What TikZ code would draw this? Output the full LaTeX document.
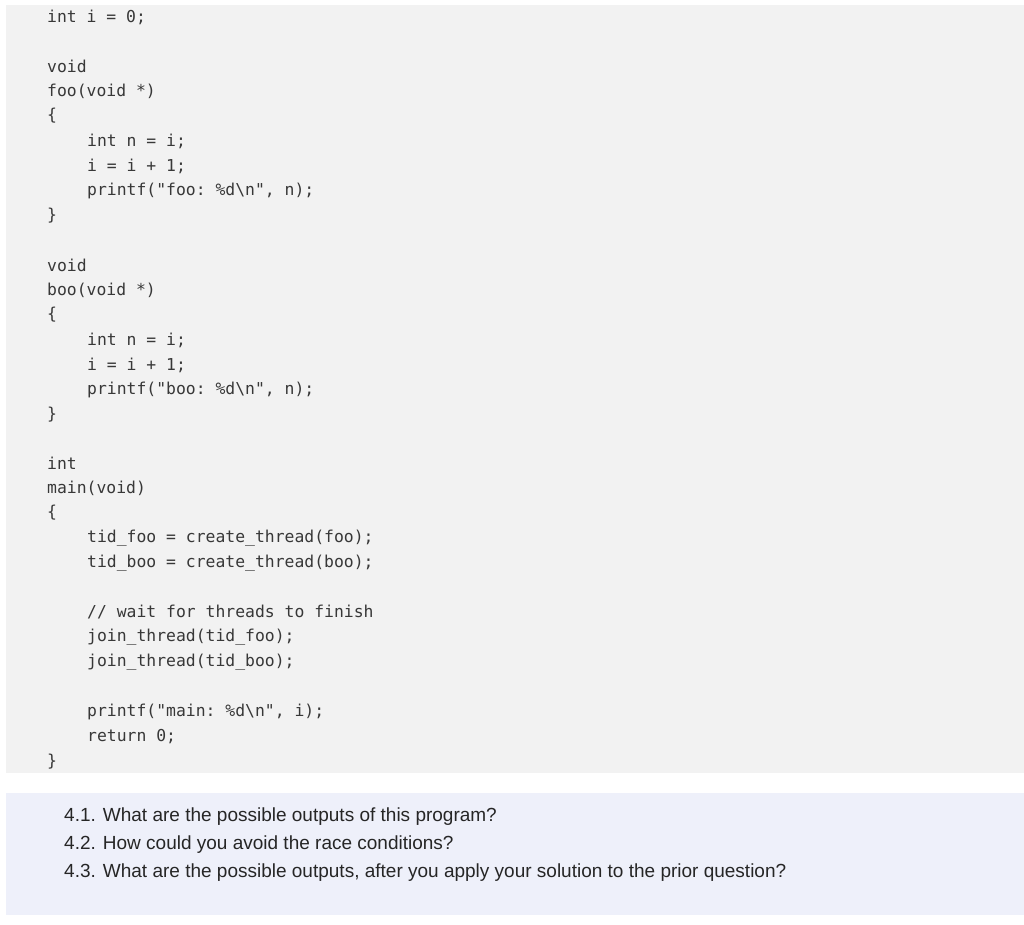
\documentclass[tikz,border=0pt]{standalone}
\usepackage{fontspec}
\setmainfont{Liberation Sans}
\setmonofont{DejaVu Sans Mono}
\definecolor{qbg}{HTML}{EEF0FA}
\newcommand{\us}{\char"005F}
\begin{document}
\begin{tikzpicture}[x=1pt,y=-1pt,
  code/.style={anchor=west,inner sep=0pt,text=black!78,font=\ttfamily\fontsize{16.4}{19}\selectfont},
  q/.style={anchor=west,inner sep=0pt,text=black!85,font=\fontsize{19}{22}\selectfont}]
\useasboundingbox (0,0) rectangle (1024,924);
\fill[white] (0,0) rectangle (1024,924);
\fill[gray!10] (6,5) rectangle (1024,773);
\fill[qbg] (6,793) rectangle (1024,915);
\node[code] (l1) at (47,17) {int i = 0;};
\node[code] (l2) at (47,66) {void};
\node[code] (l3) at (47,91) {foo(void *)};
\node[code] (l4) at (47,116) {\{};
\node[code] (l5) at (87,141) {int n = i;};
\node[code] (l6) at (87,166) {i = i + 1;};
\node[code] (l7) at (87,191) {printf("foo: \%d\textbackslash n", n);};
\node[code] (l8) at (47,216) {\}};
\node[code] (l9) at (47,265) {void};
\node[code] (l10) at (47,290) {boo(void *)};
\node[code] (l11) at (47,315) {\{};
\node[code] (l12) at (87,340) {int n = i;};
\node[code] (l13) at (87,365) {i = i + 1;};
\node[code] (l14) at (87,390) {printf("boo: \%d\textbackslash n", n);};
\node[code] (l15) at (47,415) {\}};
\node[code] (l16) at (47,463) {int};
\node[code] (l17) at (47,488) {main(void)};
\node[code] (l18) at (47,513) {\{};
\node[code] (l19) at (87,538) {tid\us foo = create\us thread(foo);};
\node[code] (l20) at (87,563) {tid\us boo = create\us thread(boo);};
\node[code] (l21) at (87,612) {// wait for threads to finish};
\node[code] (l22) at (87,637) {join\us thread(tid\us foo);};
\node[code] (l23) at (87,662) {join\us thread(tid\us boo);};
\node[code] (l24) at (87,712) {printf("main: \%d\textbackslash n", i);};
\node[code] (l25) at (87,737) {return 0;};
\node[code] (l26) at (47,762) {\}};
\node[q] (q1) at (64,817) {4.1. What are the possible outputs of this program?};
\node[q] (q2) at (64,845) {4.2. How could you avoid the race conditions?};
\node[q] (q3) at (64,873) {4.3. What are the possible outputs, after you apply your solution to the prior question?};
\end{tikzpicture}
\end{document}
